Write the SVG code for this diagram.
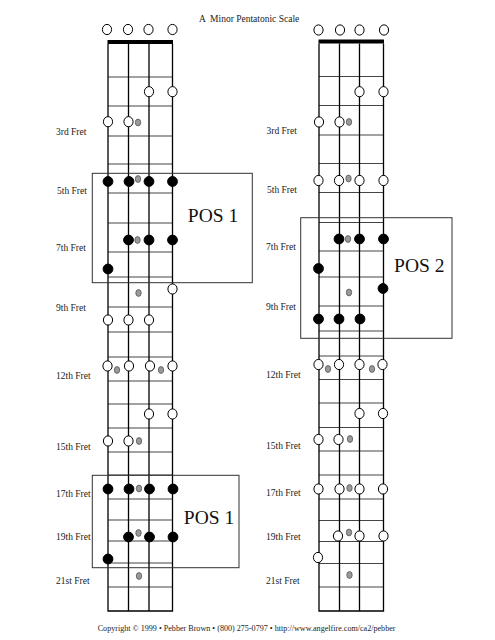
<svg xmlns="http://www.w3.org/2000/svg" width="495" height="640" viewBox="0 0 495 640">
<style>
.str{stroke:#000;stroke-width:1.3;fill:none}
.fret{stroke:#444;stroke-width:1.2;fill:none}
.nut{fill:#000}
.w{fill:#fff;stroke:#000;stroke-width:1}
.b{fill:#000;stroke:#000;stroke-width:1}
.g{fill:#9a9a9a;stroke:#555;stroke-width:0.8}
.box{fill:none;stroke:#333;stroke-width:1}
.lbl{font-family:"Liberation Serif",serif;font-size:9.5px;fill:#222}
.pos{font-family:"Liberation Serif",serif;font-size:19.5px;fill:#111;text-anchor:middle}
.small{font-family:"Liberation Serif",serif;font-size:8.1px;fill:#222}
</style>
<defs>
<ellipse id="W" rx="4.6" ry="5.1" class="w"/>
<circle id="B" r="4.9" class="b"/>
<ellipse id="G" rx="2.7" ry="3.4" class="g"/>
</defs>
<rect width="495" height="640" fill="#fff"/>
<text class="lbl" x="199" y="22" xml:space="preserve">A  Minor Pentatonic Scale</text>

<g id="fretboard-left">
<rect class="nut" x="107.5" y="40" width="65.5" height="4"/>
<g class="fret">
<path d="M108 77H172.5M108 106H172.5M108 136H172.5M108 164H172.5M108 193H172.5M108 223H172.5M108 252H172.5M108 277H172.5M108 307H172.5M108 332H172.5M108 357H172.5M108 381H172.5M108 404H172.5M108 428H172.5M108 452H172.5M108 475H172.5M108 499H172.5M108 520H172.5M108 541H172.5M108 563H172.5M108 587H172.5"/>
</g>
<path class="str" d="M108 44V611.5M128.5 44V611.5M149 44V611.5M172.5 44V611.5M107.4 611H173.1"/>
<g id="left-markers">
<use href="#G" x="138" y="122.5"/><use href="#G" x="138" y="179"/><use href="#G" x="137.5" y="240"/><use href="#G" x="138.5" y="293"/><use href="#G" x="117" y="370"/><use href="#G" x="161" y="370"/><use href="#G" x="139" y="441"/><use href="#G" x="139" y="488.5"/><use href="#G" x="138.5" y="533"/><use href="#G" x="139" y="576"/>
</g>
<g id="left-notes">
<use href="#W" x="107" y="29.5"/><use href="#W" x="128" y="29.5"/><use href="#W" x="148.5" y="29.5"/><use href="#W" x="172.5" y="29.5"/>
<use href="#W" x="149" y="91.7"/><use href="#W" x="172.5" y="91.7"/>
<use href="#W" x="108" y="121.7"/><use href="#W" x="128.5" y="121.7"/>
<use href="#B" x="108" y="181.5"/><use href="#B" x="129" y="181.5"/><use href="#B" x="149" y="181.5"/><use href="#B" x="172.5" y="181.5"/>
<use href="#B" x="128.5" y="240"/><use href="#B" x="149" y="240"/><use href="#B" x="172.5" y="240"/>
<use href="#B" x="108" y="269"/>
<use href="#W" x="172.5" y="289"/>
<use href="#W" x="108" y="320"/><use href="#W" x="128.5" y="320"/><use href="#W" x="149" y="320"/>
<use href="#W" x="107.5" y="366"/><use href="#W" x="129" y="366"/><use href="#W" x="150" y="366"/><use href="#W" x="172.5" y="366"/>
<use href="#W" x="149" y="414"/><use href="#W" x="172.5" y="414"/>
<use href="#W" x="108" y="441"/><use href="#W" x="128.5" y="441"/>
<use href="#B" x="108" y="489"/><use href="#B" x="129" y="489"/><use href="#B" x="149.5" y="489"/><use href="#B" x="173" y="489"/>
<use href="#B" x="128.5" y="537"/><use href="#B" x="149.5" y="537"/><use href="#B" x="173" y="537"/>
<use href="#B" x="108" y="559"/>
</g>
<g id="left-labels">
<text class="lbl" x="56" y="135">3rd Fret</text>
<text class="lbl" x="57" y="194">5th Fret</text>
<text class="lbl" x="56" y="250.5">7th Fret</text>
<text class="lbl" x="56" y="310.5">9th Fret</text>
<text class="lbl" x="56" y="378.5">12th Fret</text>
<text class="lbl" x="56" y="449.5">15th Fret</text>
<text class="lbl" x="56" y="496.5">17th Fret</text>
<text class="lbl" x="56" y="540">19th Fret</text>
<text class="lbl" x="56" y="584">21st Fret</text>
</g>
</g>

<g id="pos1-upper">
<rect class="box" x="92.3" y="173.3" width="160" height="109.4"/>
<text class="pos" x="213" y="222">POS 1</text>
</g>
<g id="pos1-lower">
<rect class="box" x="92.3" y="475.3" width="146.7" height="92.4"/>
<text class="pos" x="209" y="523.5">POS 1</text>
</g>

<g id="fretboard-right">
<rect class="nut" x="318.5" y="39.5" width="65.5" height="4"/>
<g class="fret">
<path d="M319 76.5H383.5M319 105.5H383.5M319 135H383.5M319 163.5H383.5M319 192.5H383.5M319 222.5H383.5M319 251H383.5M319 277H383.5M319 306H383.5M319 331H383.5M319 356H383.5M319 379.5H383.5M319 403H383.5M319 427.5H383.5M319 451H383.5M319 475H383.5M319 499H383.5M319 520.5H383.5M319 541.5H383.5M319 563.5H383.5M319 587H383.5"/>
</g>
<path class="str" d="M319 43.5V611.5M339.5 43.5V611.5M359.5 43.5V611.5M383.5 43.5V611.5M318.4 611H384.1"/>
<g id="right-markers">
<use href="#G" x="349" y="122"/><use href="#G" x="348.5" y="178.5"/><use href="#G" x="348" y="239"/><use href="#G" x="349" y="292.5"/><use href="#G" x="328" y="369"/><use href="#G" x="372" y="369"/><use href="#G" x="350" y="439"/><use href="#G" x="349.5" y="488"/><use href="#G" x="349" y="532.5"/><use href="#G" x="349.5" y="575"/>
</g>
<g id="right-notes">
<use href="#W" x="318.5" y="30"/><use href="#W" x="340" y="30"/><use href="#W" x="359.5" y="30"/><use href="#W" x="384" y="30"/>
<use href="#W" x="359.5" y="91.7"/><use href="#W" x="383.5" y="91.7"/>
<use href="#W" x="319" y="122"/><use href="#W" x="339.5" y="122"/>
<use href="#W" x="318.5" y="180.5"/><use href="#W" x="339" y="180.5"/><use href="#W" x="359.5" y="180.5"/><use href="#W" x="383.5" y="180.5"/>
<use href="#B" x="339" y="239"/><use href="#B" x="359.5" y="239"/><use href="#B" x="383.5" y="239"/>
<use href="#B" x="318.5" y="268.5"/>
<use href="#B" x="383" y="288.5"/>
<use href="#B" x="318.5" y="319"/><use href="#B" x="339" y="319"/><use href="#B" x="360" y="319"/>
<use href="#W" x="318.5" y="364.5"/><use href="#W" x="339" y="364.5"/><use href="#W" x="359.5" y="364.5"/><use href="#W" x="382.5" y="364.5"/>
<use href="#W" x="359.5" y="413.5"/><use href="#W" x="383" y="413.5"/>
<use href="#W" x="318.5" y="439.5"/><use href="#W" x="338.5" y="439.5"/>
<use href="#W" x="318.5" y="489"/><use href="#W" x="339.5" y="489"/><use href="#W" x="359.5" y="489"/><use href="#W" x="383" y="489"/>
<use href="#W" x="338" y="536"/><use href="#W" x="359.5" y="536"/><use href="#W" x="383.5" y="536"/>
<use href="#W" x="318" y="557.5"/>
</g>
<g id="right-labels">
<text class="lbl" x="266.5" y="134">3rd Fret</text>
<text class="lbl" x="267" y="193">5th Fret</text>
<text class="lbl" x="266" y="249.5">7th Fret</text>
<text class="lbl" x="266" y="310">9th Fret</text>
<text class="lbl" x="266" y="377.5">12th Fret</text>
<text class="lbl" x="266" y="449">15th Fret</text>
<text class="lbl" x="266" y="496">17th Fret</text>
<text class="lbl" x="266" y="539.5">19th Fret</text>
<text class="lbl" x="266" y="583.5">21st Fret</text>
</g>
</g>

<g id="pos2">
<rect class="box" x="300.7" y="217.7" width="151.3" height="120.6"/>
<text class="pos" x="419.3" y="271.5">POS 2</text>
</g>

<text class="small" x="97.7" y="631">Copyright © 1999 • Pebber Brown • (800) 275-0797 • http://www.angelfire.com/ca2/pebber</text>
</svg>
